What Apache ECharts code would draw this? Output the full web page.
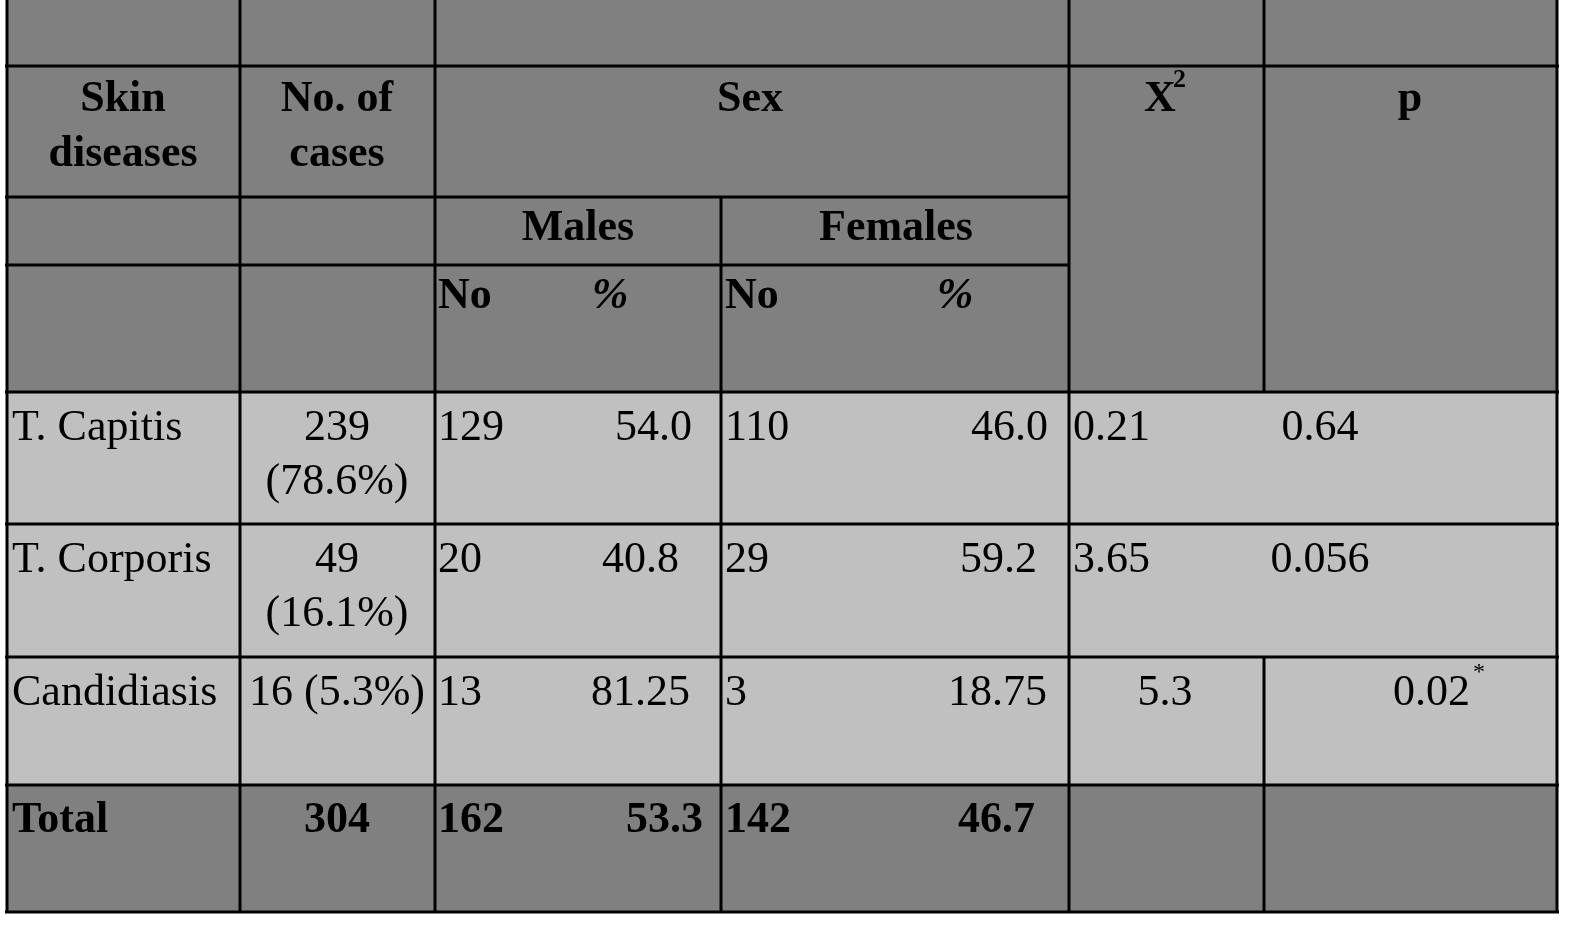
<!DOCTYPE html><html><head><meta charset="utf-8">
<script src="https://cdn.jsdelivr.net/npm/echarts@6/dist/echarts.min.js"></script>
<style>html,body{margin:0;padding:0;background:#fff}#c{width:1594px;height:934px}</style></head><body><div id="c"></div>
<script>
const categories=['T. Capitis','T. Corporis','Candidiasis','Total'];
const casesNo=['239','49','16','304'];
const casesPct=['(78.6%)','(16.1%)','(5.3%)',''];
const malesNo=['129','20','13','162'];
const malesPct=['54.0','40.8','81.25','53.3'];
const femalesNo=['110','29','3','142'];
const femalesPct=['46.0','59.2','18.75','46.7'];
const chi2=['0.21','3.65','5.3',''];
const pvals=['0.64','0.056','0.02',''];

const F='"Liberation Serif", "DejaVu Serif", serif';
const FS=44;
const g=[];
function rect(x1,y1,x2,y2,c){g.push({type:'rect',shape:{x:x1,y:y1,width:x2-x1,height:y2-y1},style:{fill:c},silent:true});}
function line(x1,y1,x2,y2){g.push({type:'line',shape:{x1,y1,x2,y2},style:{stroke:'#000',lineWidth:3},z:10});}
function text(s,x,y,align,bold,extra){g.push({type:'text',x,y,z:20,style:Object.assign({text:s,fill:'#000',font:(bold?'bold ':'')+FS+'px '+F,textAlign:align||'left',textVerticalAlign:'middle'},extra||{})});}

const X=[7,240,435,721,1069,1264,1557];
const rowY=[392,524,657,785,912];
// backgrounds
rect(7,0,1557,392,'#808080');
rect(7,392,1557,785,'#c0c0c0');
rect(7,785,1557,912,'#808080');
// horizontal lines
[66,392,524,657,785,912].forEach(y=>line(5,y,1559,y));
line(5,197,1069,197);line(5,265,1069,265);
// vertical lines
[7,240,435,1069,1557].forEach(x=>line(x,0,x,912));
line(1264,0,1264,392);line(1264,657,1264,912);
line(721,197,721,912);
// header text
const H=true;
text('Skin',123,100,'center',H);text('diseases',123,155,'center',H);
text('No. of',337,100,'center',H);text('cases',337,155,'center',H);
text('Sex',750,100,'center',H);
text('X',1160,100,'center',H);
g.push({type:'text',x:1173,y:80,z:20,style:{text:'2',font:'bold 26px '+F,fill:'#000',textVerticalAlign:'middle'}});
text('p',1410,100,'center',H);
text('Males',578,229,'center',H);text('Females',896,229,'center',H);
text('No',438,297,'left',H);text('%',610,297,'center',H,{font:'italic bold '+FS+'px '+F});
text('No',725,297,'left',H);text('%',955,297,'center',H,{font:'italic bold '+FS+'px '+F});
// data rows
const mRight=[692,679,690,703], fRight=[1048,1037,1047,1035];
categories.forEach((c,i)=>{
  const y=rowY[i]+36, b=i===3;
  text(c,12,y,'left',b);
  if(i===2){text(casesNo[i]+' '+casesPct[i],337,y,'center',b);}
  else{text(casesNo[i],337,y,'center',b); if(casesPct[i]) text(casesPct[i],337,y+54,'center',b);}
  text(malesNo[i],438,y,'left',b);
  text(malesPct[i],mRight[i],y,'right',b);
  text(femalesNo[i],725,y,'left',b);
  text(femalesPct[i],fRight[i],y,'right',b);
  if(i<2){text(chi2[i],1073,y,'left',b);text(pvals[i],1320,y,'center',b);}
  else if(i===2){text(chi2[i],1165,y,'center',b);text(pvals[i],1470,y,'right',b);
    g.push({type:'text',x:1473,y:y-20,z:20,style:{text:'*',font:'24px '+F,fill:'#000',textVerticalAlign:'middle'}});}
});
const chart=echarts.init(document.getElementById('c'));
chart.setOption({animation:false,backgroundColor:'#fff',graphic:g});
</script></body></html>
